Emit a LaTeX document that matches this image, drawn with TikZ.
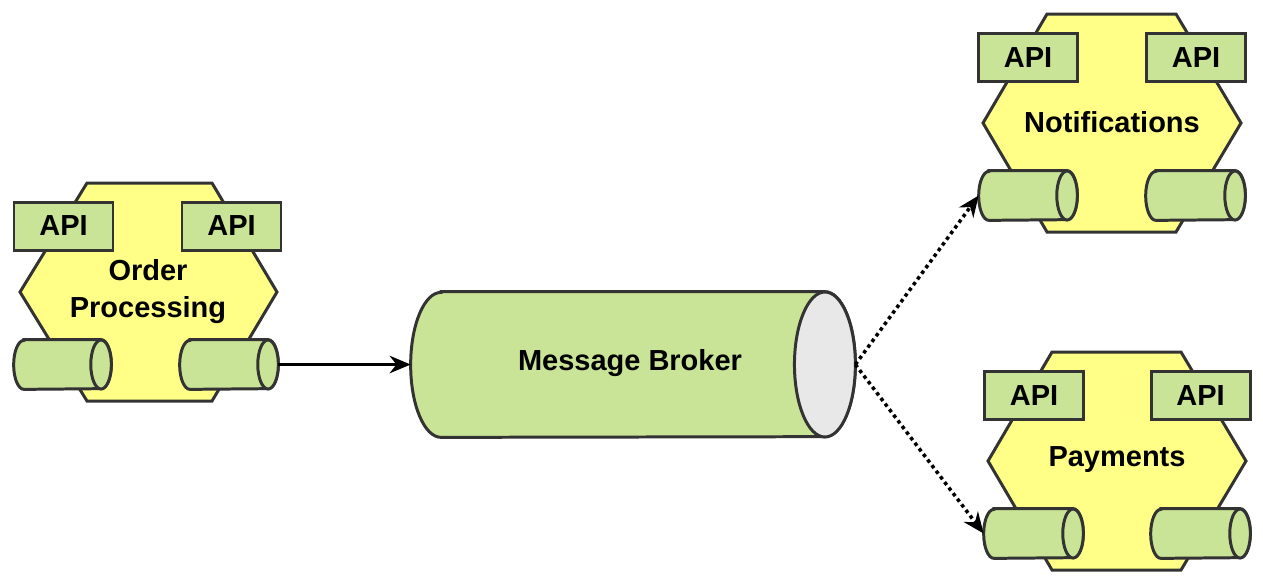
\documentclass[tikz,border=0pt]{standalone}
\usepackage{fontspec}
\setmainfont{Liberation Sans}
\usetikzlibrary{arrows.meta}
\definecolor{hexy}{HTML}{FFFF88}
\definecolor{grn}{HTML}{C9E496}
\definecolor{edge}{HTML}{333333}
\definecolor{capg}{HTML}{E8E8E8}
\newcommand\mycyl[6]{%
  \pgfmathsetmacro\myrx{#5*0.21*0.02}%
  \pgfmathsetmacro\myry{#5*0.5*0.02}%
  \node[minimum width=#4*0.02cm,minimum height=#5*0.02cm,inner sep=0pt] (#1) at (#2,#3) {};
  \draw[cylst] ([xshift=\myrx cm]#1.north west) -- ([xshift=-\myrx cm]#1.north east)
     arc[start angle=90,end angle=-90,x radius=\myrx cm,y radius=\myry cm]
     -- ([xshift=\myrx cm]#1.south west)
     arc[start angle=270,end angle=90,x radius=\myrx cm,y radius=\myry cm] -- cycle;
  \draw[cylst,fill=#6] ([xshift=-\myrx cm]#1.east) ellipse[x radius=\myrx cm,y radius=\myry cm];
}
\begin{document}
\begin{tikzpicture}[x=0.02cm,y=-0.02cm,
  hex/.style={fill=hexy,draw=edge,line width=1.7pt,line join=miter},
  cylst/.style={draw=edge,fill=grn,line width=1.7pt},
  api/.style={draw=edge,fill=grn,line width=1.7pt,minimum width=99*0.02cm,minimum height=48*0.02cm,inner sep=0pt,font=\bfseries\fontsize{16.5}{19}\selectfont},
  lbl/.style={font=\bfseries\fontsize{16.5}{19}\selectfont,align=center,inner sep=0pt},
  flow/.style={line width=1.4pt,-{Stealth[length=12pt,width=10pt]}},
  dflow/.style={line width=2pt,dash pattern=on 2pt off 2pt,-{Stealth[length=12pt,width=10pt]}}]
\useasboundingbox (0,0) rectangle (1263,583);
% Order Processing
\draw[hex] (87,183)--(212,183)--(277,292)--(212,401)--(87,401)--(20,292)--cycle;
\node[api] (opa1) at (63.5,226) {API};
\node[api] (opa2) at (231.5,226) {API};
\mycyl{opc1}{62.5}{364.5}{97}{49}{grn}
\mycyl{opc2}{229}{364.5}{98}{49}{grn}
\node[lbl] (op) at (148,292) {Order\\[2pt]Processing};
% Notifications
\draw[hex] (1047,14)--(1176,14)--(1241,123)--(1176,232)--(1047,232)--(983,123)--cycle;
\node[api] (na1) at (1028,57.5) {API};
\node[api] (na2) at (1196,57.5) {API};
\mycyl{nc1}{1028}{195.5}{98}{49}{grn}
\mycyl{nc2}{1195.5}{195.5}{99}{49}{grn}
\node[lbl] (n) at (1112,122) {Notifications};
% Payments
\draw[hex] (1052,352)--(1181,352)--(1246,461)--(1181,570)--(1052,570)--(988,461)--cycle;
\node[api] (pa1) at (1034,395.5) {API};
\node[api] (pa2) at (1200.5,395.5) {API};
\mycyl{pc1}{1033.5}{533.5}{99}{49}{grn}
\mycyl{pc2}{1200.5}{533.5}{99}{49}{grn}
\node[lbl] (p) at (1117,460) {Payments};
% Broker
\mycyl{mb}{633}{364.5}{444}{145}{capg}
\node[lbl] (mbl) at (630,363) {Message Broker};
\draw[flow] (opc2.east) -- (mb.west);
\draw[dflow] (mb.east) -- (nc1.west);
\draw[dflow] (mb.east) -- (pc1.west);
\end{tikzpicture}
\end{document}
